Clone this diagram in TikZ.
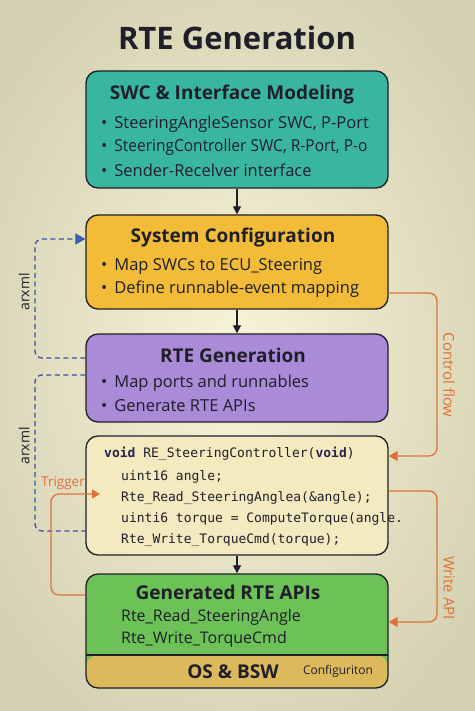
\documentclass[tikz,border=0pt]{standalone}
\usepackage{fontspec}
\setmainfont{Open Sans}
\newfontfamily\codefont{DejaVu Sans Mono}
\usetikzlibrary{arrows.meta,calc}
\definecolor{bgin}{HTML}{F8F4D8}
\definecolor{bgout}{HTML}{D5D2B3}
\definecolor{teal}{HTML}{39B6A2}
\definecolor{yel}{HTML}{F2BC38}
\definecolor{purp}{HTML}{A98BD8}
\definecolor{codebg}{HTML}{F4EABF}
\definecolor{grn}{HTML}{6CC256}
\definecolor{band}{HTML}{DCBA5C}
\definecolor{ink}{HTML}{1F1F2A}
\definecolor{orng}{HTML}{E0703A}
\definecolor{dblue}{HTML}{3A52A0}
\definecolor{ablue}{HTML}{2D6BCB}
\definecolor{kw}{HTML}{24244E}
\tikzset{
  box/.style={draw=ink, line width=1.3pt, rounded corners=12pt, minimum width=302pt, inner sep=0pt},
  ttl/.style={font=\bfseries\fontsize{19}{22}\selectfont, text=ink},
  bul/.style={anchor=west, font=\fontsize{16.5}{19}\selectfont, text=ink, inner sep=0pt},
  api/.style={anchor=west, font=\fontsize{16}{19}\selectfont, text=ink, inner sep=0pt},
  code/.style={anchor=west, font=\codefont\fontsize{13}{15}\selectfont, text=ink, inner sep=0pt},
  flow/.style={draw=ink, line width=1.2pt, -{Triangle[width=8pt,length=8pt]}},
  oline/.style={draw=orng, line width=1.3pt, rounded corners=8pt},
  olbl/.style={text=orng, font=\fontsize{15}{17}\selectfont},
  bline/.style={draw=dblue, line width=1.3pt, dash pattern=on 5pt off 3.5pt, rounded corners=7pt},
  blbl/.style={text=ink, font=\fontsize{14}{16}\selectfont},
}
\begin{document}
\begin{tikzpicture}[x=1pt,y=-1pt]
\useasboundingbox (0,0) rectangle (474,711);
\shade[inner color=bgin, outer color=bgout] (-60,-60) rectangle (534,771);

\node[font=\bfseries\fontsize{31}{36}\selectfont, text=ink] (title) at (237,38) {RTE Generation};

% boxes
\node[box, fill=teal, minimum height=117pt] (b1) at (237,129.5) {};
\node[box, fill=yel, minimum height=94pt] (b2) at (237,262) {};
\node[box, fill=purp, minimum height=88pt] (b3) at (237,378) {};
\node[box, fill=codebg, minimum height=119pt] (b4) at (237,495.5) {};
\node[box, fill=grn, minimum height=114pt,
  path picture={\fill[band] (path picture bounding box.south west) rectangle ([yshift=33pt]path picture bounding box.south east);
  \draw[ink, line width=1.3pt] ([yshift=33pt]path picture bounding box.south west) -- ([yshift=33pt]path picture bounding box.south east);}] (b5) at (237,631) {};

% box 1 text
\node[ttl] (t1) at (232,95) {SWC \& Interface Modeling};
\node[bul] (t1a) at (101,124) {•\hspace{7pt}SteeringAngleSensor SWC, P-Port};
\node[bul] (t1b) at (101,147) {•\hspace{7pt}\scalebox{0.94}[1]{SteeringController SWC, R-Port, P-o}};
\node[bul] (t1c) at (101,170) {•\hspace{7pt}Sender-Recelver interface};

% box 2 text
\node[ttl] (t2) at (233,238) {System Configuration};
\node[bul] (t2a) at (101,266) {•\hspace{7pt}Map SWCs to ECU\_Steering};
\node[bul] (t2b) at (101,289) {•\hspace{7pt}Define runnable-event mapping};

% box 3 text
\node[ttl] (t3) at (233,355) {RTE Generation};
\node[bul] (t3a) at (101,383) {•\hspace{7pt}Map ports and runnables};
\node[bul] (t3b) at (101,406) {•\hspace{7pt}Generate RTE APIs};

% box 4 code
\node[code] (c1) at (104,454) {\textcolor{kw}{\bfseries void} RE\_SteeringController(\textcolor{kw}{\bfseries void})};
\node[code] (c2) at (121,477) {uint16 angle;};
\node[code] (c3) at (121,498) {Rte\_Read\_SteeringAnglea(\&angle);};
\node[code] (c4) at (121,519) {uinti6 torque = ComputeTorque(angle.};
\node[code] (c5) at (121,540) {Rte\_Write\_TorqueCmd(torque);};

% box 5 text
\node[ttl] (t5) at (228,592) {Generated RTE APIs};
\node[api] (t5a) at (121,617) {Rte\_Read\_SteeringAngle};
\node[api] (t5b) at (121,639) {Rte\_Write\_TorqueCmd};
\node[ttl] (t6) at (233,672) {OS \& BSW};
\node[font=\fontsize{12}{14}\selectfont, text=ink] (t6b) at (338,671) {Configuriton};

% main flow
\draw[flow] (b1.south) -- (b2.north);
\draw[flow] (b2.south) -- (b3.north);
\draw[flow] (b4.south) -- (b5.north);

% coordinates
\coordinate (lx1) at (35,239);
\coordinate (lx2) at (35,358);
\coordinate (lx3) at (35,375);
\coordinate (lx4) at (35,531);
\coordinate (tg1) at (51,595);
\coordinate (tg2) at (51,494);
\coordinate (tgtip) at (100,494);
\coordinate (cf1) at (437,293);
\coordinate (cf2) at (437,456);
\coordinate (wa1) at (437,491);
\coordinate (wa2) at (437,622);

% arxml dashed lines
\draw[bline, -{Triangle[width=11pt,length=10pt,fill=ablue]}] (b3.west |- lx2) -- (lx2) -- (lx1) -- (b2.west |- lx1);
\draw[bline] (b3.west |- lx3) -- (lx3) -- (lx4) -- (b4.west |- lx4);
\node[blbl, rotate=90] (ax1) at (24,292) {arxml};
\node[blbl, rotate=90] (ax2) at (24,446) {arxml};

% orange lines
\draw[oline, -{Triangle[width=10pt,length=9pt]}] (b2.east |- cf1) -- (cf1) -- (cf2) -- (b4.east |- cf2);
\draw[oline, -{Triangle[width=10pt,length=9pt]}] (b4.east |- wa1) -- (wa1) -- (wa2) -- (b5.east |- wa2);
\draw[oline, -{Triangle[width=9pt,length=8pt]}] (b5.west |- tg1) -- (tg1) -- (tg2) -- (tgtip);
\node[olbl, rotate=-90] (lcf) at (449,375) {Control flow};
\node[olbl, rotate=-90] (lwa) at (449,588) {Write API};
\node[olbl, font=\fontsize{13.5}{16}\selectfont] (ltg) at (63,483) {Trigger};
\end{tikzpicture}
\end{document}
